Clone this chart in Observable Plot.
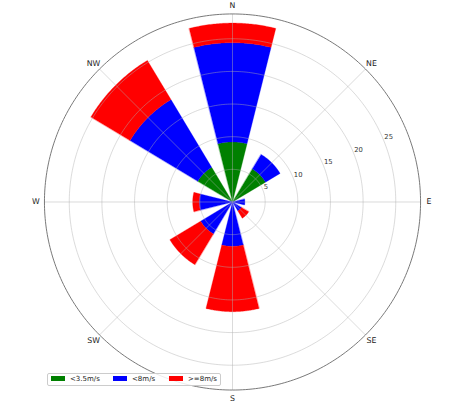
<!DOCTYPE html>
<html>
<head>
<meta charset="utf-8">
<script src="https://cdn.jsdelivr.net/npm/d3@7"></script>
<script src="https://cdn.jsdelivr.net/npm/@observablehq/plot@0.6"></script>
<style>
  body { margin: 0; background: #fff; font-family: "DejaVu Sans", sans-serif; }
  #wrap { position: relative; width: 474px; height: 412px; }
  #legend { position: absolute; left: 47px; top: 373px; width: 172px; height: 11px;
    border: 1px solid #cccccc; border-radius: 2px; background: rgba(255,255,255,0.85);
    font-size: 7px; color: #222; }
  .item { position: absolute; top: 0; height: 11px; line-height: 11px; white-space: nowrap; }
  .sw { display: inline-block; width: 14px; height: 4.5px; vertical-align: middle; margin-right: 5px; position: relative; top: -0.5px; }
</style>
</head>
<body>
<div id="wrap"></div>
<script>
// ---- data ----
const directions = ["N", "NE", "E", "SE", "S", "SW", "W", "NW"];
const directionAngles = [0, 45, 90, 135, 180, 225, 270, 315];
const speedBins = ["<3.5m/s", "<8m/s", ">=8m/s"];
const freqLow  = [9.2, 5.9, 0.0, 0.0, 0.0, 0.0, 0.0, 6.2];
const freqMid  = [15.2, 2.6, 1.9, 1.6, 6.8, 5.7, 5.1, 12.1];
const freqHigh = [3.0, 0.0, 0.0, 1.3, 10.0, 5.5, 1.0, 7.0];
const radialTicks = [5, 10, 15, 20, 25];
const rMax = 28.8;

const binColors = ["green", "blue", "red"];
const rad = a => a * Math.PI / 180;
const px = (r, a) => r * Math.sin(rad(a));
const py = (r, a) => r * Math.cos(rad(a));

// stacked segments
const segs = [];
directions.forEach((d, i) => {
  let base = 0;
  [freqLow, freqMid, freqHigh].forEach((arr, k) => {
    const v = arr[i];
    if (v > 0) segs.push({dir: d, angle: directionAngles[i], bin: k, r0: base, r1: base + v});
    base += v;
  });
});
const halfWidth = 14;
const polyPts = [];
segs.forEach((s, j) => {
  for (let a = -halfWidth; a <= halfWidth + 1e-9; a += 0.5)
    polyPts.push({id: j, bin: s.bin, x: px(s.r1, s.angle + a), y: py(s.r1, s.angle + a)});
  if (s.r0 > 0) {
    for (let a = halfWidth; a >= -halfWidth - 1e-9; a -= 0.5)
      polyPts.push({id: j, bin: s.bin, x: px(s.r0, s.angle + a), y: py(s.r0, s.angle + a)});
  } else {
    polyPts.push({id: j, bin: s.bin, x: 0, y: 0});
  }
});

const circlePts = (r) => d3.range(0, 360, 1).map(a => ({r, x: px(r, a), y: py(r, a)}));
const ringPts = radialTicks.flatMap(circlePts);
const outerPts = circlePts(rMax);

const chart = Plot.plot({
  width: 474, height: 412,
  marginTop: 0, marginBottom: 0, marginLeft: 0, marginRight: 0,
  x: {domain: [-35.53, 37.06], axis: null},
  y: {domain: [-32.24, 30.86], axis: null},
  style: {fontFamily: "DejaVu Sans, sans-serif", background: "#fff"},
  marks: [
    ...binColors.map((c, k) => Plot.line(polyPts.filter(p => p.bin === k),
      {x: "x", y: "y", z: "id", fill: c, stroke: c, strokeWidth: 0.3, curve: "linear-closed"})),
    Plot.line(ringPts, {x: "x", y: "y", z: "r", stroke: "#b0b0b0", strokeOpacity: 0.5, strokeWidth: 0.9, curve: "linear-closed"}),
    Plot.link(directionAngles, {x1: () => 0, y1: () => 0, x2: a => px(rMax, a), y2: a => py(rMax, a),
      stroke: "#b0b0b0", strokeOpacity: 0.5, strokeWidth: 0.9}),
    Plot.line(outerPts, {x: "x", y: "y", stroke: "#6a6a6a", strokeWidth: 0.9, curve: "linear-closed"}),
    Plot.text(directions, {x: (d, i) => px(30.1, directionAngles[i]), y: (d, i) => py(30.1, directionAngles[i]),
      text: d => d, fontSize: 7.8, fill: "#222", lineAnchor: "middle"}),
    Plot.text(radialTicks, {x: r => px(r, 67.5), y: r => py(r, 67.5), text: r => String(r),
      fontSize: 6.8, fill: "#333", textAnchor: "start", lineAnchor: "bottom", dx: 1, dy: -0.5})
  ]
});
document.getElementById("wrap").appendChild(chart);

// legend
const legend = document.createElement("div");
legend.id = "legend";
const itemX = [3, 65, 121];
speedBins.forEach((b, k) => {
  const it = document.createElement("div");
  it.className = "item";
  it.style.left = itemX[k] + "px";
  it.innerHTML = `<span class="sw" style="background:${binColors[k]}"></span>${b}`;
  legend.appendChild(it);
});
document.getElementById("wrap").appendChild(legend);
</script>
</body>
</html>
